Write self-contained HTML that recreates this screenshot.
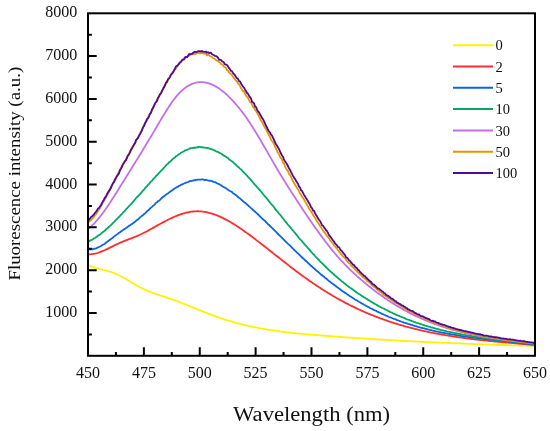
<!DOCTYPE html>
<html><head><meta charset="utf-8"><style>
html,body{margin:0;padding:0;background:#fff;}
svg{display:block;}
text{font-family:"Liberation Serif",serif;fill:#111;}
</style></head><body>
<svg width="550" height="431" viewBox="0 0 550 431">
<rect width="550" height="431" fill="#fff"/>
<g fill="none" stroke-width="1.8" stroke-linejoin="round" stroke-linecap="butt">
<polyline points="88.0,265.08 89.0,265.53 90.0,265.95 91.0,266.35 92.0,266.72 93.0,267.07 94.0,267.40 95.0,267.71 96.0,268.01 97.0,268.29 98.0,268.56 99.0,268.82 100.0,269.07 101.0,269.32 102.0,269.56 103.0,269.80 104.0,270.05 105.0,270.29 106.0,270.55 107.0,270.81 108.0,271.08 109.0,271.36 110.0,271.66 111.0,271.97 112.0,272.30 113.0,272.65 114.0,273.03 115.0,273.43 116.0,273.85 117.0,274.30 118.0,274.77 119.0,275.26 120.0,275.76 121.0,276.28 122.0,276.82 123.0,277.37 124.0,277.93 125.0,278.50 126.0,279.08 127.0,279.67 128.0,280.26 129.0,280.86 130.0,281.46 131.0,282.06 132.0,282.66 133.0,283.26 134.0,283.85 135.0,284.44 136.0,285.02 137.0,285.59 138.0,286.16 139.0,286.71 140.0,287.25 141.0,287.77 142.0,288.28 143.0,288.77 144.0,289.25 145.0,289.71 146.0,290.16 147.0,290.59 148.0,291.02 149.0,291.43 150.0,291.83 151.0,292.22 152.0,292.60 153.0,292.97 154.0,293.33 155.0,293.69 156.0,294.04 157.0,294.39 158.0,294.73 159.0,295.06 160.0,295.40 161.0,295.73 162.0,296.06 163.0,296.38 164.0,296.71 165.0,297.04 166.0,297.37 167.0,297.70 168.0,298.04 169.0,298.37 170.0,298.72 171.0,299.06 172.0,299.42 173.0,299.77 174.0,300.13 175.0,300.50 176.0,300.87 177.0,301.24 178.0,301.62 179.0,302.00 180.0,302.38 181.0,302.76 182.0,303.15 183.0,303.54 184.0,303.94 185.0,304.33 186.0,304.73 187.0,305.13 188.0,305.53 189.0,305.93 190.0,306.33 191.0,306.74 192.0,307.14 193.0,307.55 194.0,307.95 195.0,308.36 196.0,308.76 197.0,309.17 198.0,309.57 199.0,309.98 200.0,310.38 201.0,310.78 202.0,311.18 203.0,311.58 204.0,311.98 205.0,312.38 206.0,312.77 207.0,313.16 208.0,313.55 209.0,313.94 210.0,314.32 211.0,314.70 212.0,315.08 213.0,315.46 214.0,315.83 215.0,316.19 216.0,316.56 217.0,316.91 218.0,317.27 219.0,317.62 220.0,317.96 221.0,318.30 222.0,318.63 223.0,318.96 224.0,319.29 225.0,319.61 226.0,319.93 227.0,320.24 228.0,320.55 229.0,320.85 230.0,321.15 231.0,321.44 232.0,321.73 233.0,322.02 234.0,322.30 235.0,322.58 236.0,322.85 237.0,323.12 238.0,323.38 239.0,323.64 240.0,323.90 241.0,324.15 242.0,324.40 243.0,324.65 244.0,324.89 245.0,325.13 246.0,325.36 247.0,325.59 248.0,325.82 249.0,326.04 250.0,326.26 251.0,326.48 252.0,326.69 253.0,326.90 254.0,327.10 255.0,327.31 256.0,327.51 257.0,327.70 258.0,327.89 259.0,328.08 260.0,328.27 261.0,328.45 262.0,328.63 263.0,328.81 264.0,328.99 265.0,329.16 266.0,329.33 267.0,329.49 268.0,329.66 269.0,329.82 270.0,329.98 271.0,330.13 272.0,330.28 273.0,330.43 274.0,330.58 275.0,330.73 276.0,330.87 277.0,331.01 278.0,331.15 279.0,331.28 280.0,331.42 281.0,331.55 282.0,331.68 283.0,331.81 284.0,331.93 285.0,332.05 286.0,332.17 287.0,332.29 288.0,332.41 289.0,332.53 290.0,332.64 291.0,332.75 292.0,332.86 293.0,332.97 294.0,333.08 295.0,333.18 296.0,333.29 297.0,333.39 298.0,333.49 299.0,333.59 300.0,333.69 301.0,333.78 302.0,333.88 303.0,333.97 304.0,334.06 305.0,334.16 306.0,334.25 307.0,334.34 308.0,334.42 309.0,334.51 310.0,334.60 311.0,334.68 312.0,334.77 313.0,334.85 314.0,334.94 315.0,335.02 316.0,335.10 317.0,335.18 318.0,335.26 319.0,335.34 320.0,335.42 321.0,335.50 322.0,335.58 323.0,335.66 324.0,335.73 325.0,335.81 326.0,335.89 327.0,335.97 328.0,336.04 329.0,336.12 330.0,336.19 331.0,336.27 332.0,336.34 333.0,336.42 334.0,336.49 335.0,336.57 336.0,336.64 337.0,336.71 338.0,336.79 339.0,336.86 340.0,336.93 341.0,337.00 342.0,337.07 343.0,337.14 344.0,337.22 345.0,337.29 346.0,337.36 347.0,337.43 348.0,337.50 349.0,337.56 350.0,337.63 351.0,337.70 352.0,337.77 353.0,337.84 354.0,337.91 355.0,337.97 356.0,338.04 357.0,338.11 358.0,338.17 359.0,338.24 360.0,338.30 361.0,338.37 362.0,338.44 363.0,338.50 364.0,338.56 365.0,338.63 366.0,338.69 367.0,338.76 368.0,338.82 369.0,338.88 370.0,338.94 371.0,339.01 372.0,339.07 373.0,339.13 374.0,339.19 375.0,339.25 376.0,339.31 377.0,339.37 378.0,339.43 379.0,339.49 380.0,339.55 381.0,339.61 382.0,339.67 383.0,339.73 384.0,339.79 385.0,339.85 386.0,339.91 387.0,339.96 388.0,340.02 389.0,340.08 390.0,340.13 391.0,340.19 392.0,340.25 393.0,340.30 394.0,340.36 395.0,340.41 396.0,340.47 397.0,340.52 398.0,340.58 399.0,340.63 400.0,340.69 401.0,340.74 402.0,340.79 403.0,340.85 404.0,340.90 405.0,340.95 406.0,341.00 407.0,341.06 408.0,341.11 409.0,341.16 410.0,341.21 411.0,341.26 412.0,341.31 413.0,341.36 414.0,341.41 415.0,341.46 416.0,341.51 417.0,341.56 418.0,341.61 419.0,341.66 420.0,341.71 421.0,341.76 422.0,341.81 423.0,341.86 424.0,341.90 425.0,341.95 426.0,342.00 427.0,342.05 428.0,342.09 429.0,342.14 430.0,342.19 431.0,342.23 432.0,342.28 433.0,342.32 434.0,342.37 435.0,342.41 436.0,342.46 437.0,342.50 438.0,342.55 439.0,342.59 440.0,342.64 441.0,342.68 442.0,342.72 443.0,342.77 444.0,342.81 445.0,342.85 446.0,342.90 447.0,342.94 448.0,342.98 449.0,343.02 450.0,343.07 451.0,343.11 452.0,343.15 453.0,343.19 454.0,343.23 455.0,343.27 456.0,343.31 457.0,343.35 458.0,343.39 459.0,343.43 460.0,343.47 461.0,343.51 462.0,343.55 463.0,343.59 464.0,343.63 465.0,343.67 466.0,343.71 467.0,343.75 468.0,343.78 469.0,343.82 470.0,343.86 471.0,343.90 472.0,343.94 473.0,343.97 474.0,344.01 475.0,344.05 476.0,344.08 477.0,344.12 478.0,344.16 479.0,344.19 480.0,344.23 481.0,344.26 482.0,344.30 483.0,344.34 484.0,344.37 485.0,344.41 486.0,344.44 487.0,344.48 488.0,344.51 489.0,344.54 490.0,344.58 491.0,344.61 492.0,344.65 493.0,344.68 494.0,344.71 495.0,344.75 496.0,344.78 497.0,344.81 498.0,344.85 499.0,344.88 500.0,344.91 501.0,344.94 502.0,344.98 503.0,345.01 504.0,345.04 505.0,345.07 506.0,345.10 507.0,345.14 508.0,345.17 509.0,345.20 510.0,345.23 511.0,345.26 512.0,345.29 513.0,345.32 514.0,345.35 515.0,345.38 516.0,345.41 517.0,345.44 518.0,345.47 519.0,345.50 520.0,345.53 521.0,345.56 522.0,345.59 523.0,345.62 524.0,345.65 525.0,345.68 526.0,345.71 527.0,345.74 528.0,345.77 529.0,345.80 530.0,345.82 531.0,345.85 532.0,345.88 533.0,345.91 534.0,345.94 535.0,345.96" stroke="#FFF200"/>
<polyline points="88.0,254.30 89.0,254.31 90.0,254.28 91.0,254.21 92.0,254.10 93.0,253.95 94.0,253.77 95.0,253.56 96.0,253.31 97.0,253.04 98.0,252.74 99.0,252.41 100.0,252.06 101.0,251.69 102.0,251.30 103.0,250.89 104.0,250.46 105.0,250.02 106.0,249.56 107.0,249.09 108.0,248.61 109.0,248.13 110.0,247.64 111.0,247.14 112.0,246.65 113.0,246.15 114.0,245.65 115.0,245.15 116.0,244.66 117.0,244.18 118.0,243.70 119.0,243.24 120.0,242.78 121.0,242.34 122.0,241.92 123.0,241.50 124.0,241.10 125.0,240.70 126.0,240.31 127.0,239.93 128.0,239.55 129.0,239.17 130.0,238.80 131.0,238.42 132.0,238.04 133.0,237.66 134.0,237.27 135.0,236.88 136.0,236.47 137.0,236.06 138.0,235.64 139.0,235.20 140.0,234.74 141.0,234.28 142.0,233.79 143.0,233.30 144.0,232.79 145.0,232.27 146.0,231.75 147.0,231.21 148.0,230.67 149.0,230.12 150.0,229.57 151.0,229.02 152.0,228.46 153.0,227.90 154.0,227.34 155.0,226.78 156.0,226.22 157.0,225.66 158.0,225.11 159.0,224.55 160.0,224.00 161.0,223.46 162.0,222.91 163.0,222.38 164.0,221.85 165.0,221.32 166.0,220.80 167.0,220.29 168.0,219.79 169.0,219.29 170.0,218.80 171.0,218.33 172.0,217.86 173.0,217.41 174.0,216.96 175.0,216.53 176.0,216.11 177.0,215.70 178.0,215.31 179.0,214.93 180.0,214.57 181.0,214.22 182.0,213.89 183.0,213.58 184.0,213.28 185.0,213.00 186.0,212.74 187.0,212.50 188.0,212.28 189.0,212.07 190.0,211.89 191.0,211.73 192.0,211.60 193.0,211.48 194.0,211.39 195.0,211.33 196.0,211.28 197.0,211.26 198.0,211.27 199.0,211.30 200.0,211.35 201.0,211.43 202.0,211.52 203.0,211.64 204.0,211.78 205.0,211.95 206.0,212.13 207.0,212.33 208.0,212.56 209.0,212.80 210.0,213.06 211.0,213.35 212.0,213.65 213.0,213.97 214.0,214.30 215.0,214.66 216.0,215.03 217.0,215.42 218.0,215.82 219.0,216.25 220.0,216.68 221.0,217.14 222.0,217.60 223.0,218.09 224.0,218.58 225.0,219.09 226.0,219.62 227.0,220.16 228.0,220.71 229.0,221.27 230.0,221.84 231.0,222.43 232.0,223.03 233.0,223.64 234.0,224.26 235.0,224.89 236.0,225.53 237.0,226.18 238.0,226.83 239.0,227.50 240.0,228.18 241.0,228.86 242.0,229.55 243.0,230.25 244.0,230.96 245.0,231.67 246.0,232.39 247.0,233.11 248.0,233.84 249.0,234.58 250.0,235.32 251.0,236.06 252.0,236.81 253.0,237.56 254.0,238.32 255.0,239.07 256.0,239.84 257.0,240.60 258.0,241.37 259.0,242.14 260.0,242.91 261.0,243.68 262.0,244.46 263.0,245.24 264.0,246.02 265.0,246.80 266.0,247.58 267.0,248.37 268.0,249.16 269.0,249.94 270.0,250.73 271.0,251.52 272.0,252.31 273.0,253.10 274.0,253.89 275.0,254.68 276.0,255.47 277.0,256.26 278.0,257.04 279.0,257.83 280.0,258.62 281.0,259.41 282.0,260.19 283.0,260.98 284.0,261.76 285.0,262.54 286.0,263.32 287.0,264.10 288.0,264.88 289.0,265.65 290.0,266.42 291.0,267.19 292.0,267.96 293.0,268.72 294.0,269.48 295.0,270.24 296.0,270.99 297.0,271.74 298.0,272.49 299.0,273.23 300.0,273.97 301.0,274.71 302.0,275.44 303.0,276.17 304.0,276.89 305.0,277.61 306.0,278.32 307.0,279.03 308.0,279.74 309.0,280.44 310.0,281.14 311.0,281.83 312.0,282.52 313.0,283.20 314.0,283.88 315.0,284.56 316.0,285.23 317.0,285.90 318.0,286.56 319.0,287.21 320.0,287.87 321.0,288.51 322.0,289.16 323.0,289.80 324.0,290.43 325.0,291.06 326.0,291.68 327.0,292.30 328.0,292.92 329.0,293.53 330.0,294.13 331.0,294.73 332.0,295.33 333.0,295.92 334.0,296.51 335.0,297.09 336.0,297.66 337.0,298.23 338.0,298.80 339.0,299.36 340.0,299.91 341.0,300.46 342.0,301.01 343.0,301.55 344.0,302.08 345.0,302.61 346.0,303.14 347.0,303.66 348.0,304.17 349.0,304.68 350.0,305.19 351.0,305.69 352.0,306.18 353.0,306.67 354.0,307.16 355.0,307.64 356.0,308.12 357.0,308.59 358.0,309.06 359.0,309.52 360.0,309.98 361.0,310.43 362.0,310.88 363.0,311.32 364.0,311.76 365.0,312.20 366.0,312.63 367.0,313.06 368.0,313.48 369.0,313.90 370.0,314.31 371.0,314.72 372.0,315.13 373.0,315.53 374.0,315.92 375.0,316.32 376.0,316.71 377.0,317.09 378.0,317.47 379.0,317.85 380.0,318.22 381.0,318.59 382.0,318.95 383.0,319.31 384.0,319.67 385.0,320.02 386.0,320.37 387.0,320.71 388.0,321.06 389.0,321.39 390.0,321.73 391.0,322.06 392.0,322.38 393.0,322.70 394.0,323.02 395.0,323.34 396.0,323.65 397.0,323.96 398.0,324.26 399.0,324.56 400.0,324.86 401.0,325.16 402.0,325.45 403.0,325.73 404.0,326.02 405.0,326.30 406.0,326.58 407.0,326.85 408.0,327.12 409.0,327.39 410.0,327.65 411.0,327.92 412.0,328.17 413.0,328.43 414.0,328.68 415.0,328.93 416.0,329.18 417.0,329.42 418.0,329.66 419.0,329.90 420.0,330.13 421.0,330.36 422.0,330.59 423.0,330.82 424.0,331.04 425.0,331.26 426.0,331.48 427.0,331.69 428.0,331.90 429.0,332.11 430.0,332.32 431.0,332.53 432.0,332.73 433.0,332.93 434.0,333.12 435.0,333.32 436.0,333.51 437.0,333.70 438.0,333.88 439.0,334.07 440.0,334.25 441.0,334.43 442.0,334.61 443.0,334.78 444.0,334.96 445.0,335.13 446.0,335.30 447.0,335.46 448.0,335.63 449.0,335.79 450.0,335.95 451.0,336.11 452.0,336.27 453.0,336.42 454.0,336.57 455.0,336.72 456.0,336.87 457.0,337.02 458.0,337.16 459.0,337.31 460.0,337.45 461.0,337.59 462.0,337.72 463.0,337.86 464.0,337.99 465.0,338.13 466.0,338.26 467.0,338.39 468.0,338.52 469.0,338.64 470.0,338.77 471.0,338.89 472.0,339.01 473.0,339.13 474.0,339.25 475.0,339.37 476.0,339.49 477.0,339.60 478.0,339.72 479.0,339.83 480.0,339.94 481.0,340.05 482.0,340.16 483.0,340.27 484.0,340.38 485.0,340.48 486.0,340.59 487.0,340.69 488.0,340.79 489.0,340.90 490.0,341.00 491.0,341.10 492.0,341.20 493.0,341.29 494.0,341.39 495.0,341.49 496.0,341.58 497.0,341.68 498.0,341.77 499.0,341.87 500.0,341.96 501.0,342.05 502.0,342.15 503.0,342.24 504.0,342.33 505.0,342.42 506.0,342.51 507.0,342.60 508.0,342.69 509.0,342.77 510.0,342.86 511.0,342.95 512.0,343.04 513.0,343.12 514.0,343.21 515.0,343.30 516.0,343.38 517.0,343.47 518.0,343.56 519.0,343.64 520.0,343.73 521.0,343.81 522.0,343.90 523.0,343.99 524.0,344.07 525.0,344.16 526.0,344.24 527.0,344.33 528.0,344.42 529.0,344.50 530.0,344.59 531.0,344.67 532.0,344.76 533.0,344.85 534.0,344.94 535.0,345.02" stroke="#FF2D2D"/>
<polyline points="88.0,249.10 89.0,249.16 90.0,249.53 91.0,249.23 92.0,249.20 93.0,249.23 94.0,248.75 95.0,248.52 96.0,248.30 97.0,247.87 98.0,247.36 99.0,247.00 100.0,246.48 101.0,246.04 102.0,245.20 103.0,244.69 104.0,244.26 105.0,243.66 106.0,242.58 107.0,242.11 108.0,241.18 109.0,240.44 110.0,239.67 111.0,238.95 112.0,238.34 113.0,237.53 114.0,236.68 115.0,235.85 116.0,235.13 117.0,234.36 118.0,233.72 119.0,232.82 120.0,232.17 121.0,231.44 122.0,230.74 123.0,230.08 124.0,229.38 125.0,228.83 126.0,227.97 127.0,227.50 128.0,226.59 129.0,225.89 130.0,225.28 131.0,224.62 132.0,223.90 133.0,223.31 134.0,222.55 135.0,221.71 136.0,220.83 137.0,220.06 138.0,219.43 139.0,218.45 140.0,217.41 141.0,216.64 142.0,215.78 143.0,215.13 144.0,214.08 145.0,213.49 146.0,212.38 147.0,211.40 148.0,210.41 149.0,209.68 150.0,208.61 151.0,207.61 152.0,206.88 153.0,205.89 154.0,205.13 155.0,204.06 156.0,202.78 157.0,202.38 158.0,201.13 159.0,200.71 160.0,199.88 161.0,198.72 162.0,197.78 163.0,196.92 164.0,196.41 165.0,195.46 166.0,194.62 167.0,193.90 168.0,193.46 169.0,192.48 170.0,191.82 171.0,191.11 172.0,190.45 173.0,189.79 174.0,188.89 175.0,188.32 176.0,187.62 177.0,187.03 178.0,186.71 179.0,185.92 180.0,185.44 181.0,184.84 182.0,184.35 183.0,184.07 184.0,183.45 185.0,183.01 186.0,182.74 187.0,182.36 188.0,182.04 189.0,181.61 190.0,181.02 191.0,181.08 192.0,180.80 193.0,180.64 194.0,180.16 195.0,180.46 196.0,179.76 197.0,179.92 198.0,179.72 199.0,179.57 200.0,179.71 201.0,179.54 202.0,179.26 203.0,179.47 204.0,179.78 205.0,180.14 206.0,179.74 207.0,180.12 208.0,180.52 209.0,180.63 210.0,180.74 211.0,180.87 212.0,181.13 213.0,181.61 214.0,182.03 215.0,182.15 216.0,182.64 217.0,183.36 218.0,183.72 219.0,184.15 220.0,184.70 221.0,185.17 222.0,185.96 223.0,186.63 224.0,187.28 225.0,187.69 226.0,188.32 227.0,189.06 228.0,189.76 229.0,190.40 230.0,191.05 231.0,191.50 232.0,192.09 233.0,193.17 234.0,193.79 235.0,194.55 236.0,195.21 237.0,195.94 238.0,197.11 239.0,197.79 240.0,198.40 241.0,199.42 242.0,200.25 243.0,201.12 244.0,202.20 245.0,202.75 246.0,203.45 247.0,204.50 248.0,205.28 249.0,206.33 250.0,207.17 251.0,208.09 252.0,208.87 253.0,209.91 254.0,210.70 255.0,211.76 256.0,212.58 257.0,213.40 258.0,214.54 259.0,215.33 260.0,216.55 261.0,217.37 262.0,218.32 263.0,219.23 264.0,220.17 265.0,220.84 266.0,222.26 267.0,222.98 268.0,224.17 269.0,224.95 270.0,225.98 271.0,226.95 272.0,227.84 273.0,228.93 274.0,229.99 275.0,230.87 276.0,231.75 277.0,232.82 278.0,233.91 279.0,235.01 280.0,235.96 281.0,236.89 282.0,237.73 283.0,238.94 284.0,239.83 285.0,240.78 286.0,241.91 287.0,242.86 288.0,243.83 289.0,244.63 290.0,245.67 291.0,246.53 292.0,247.73 293.0,248.69 294.0,249.76 295.0,250.65 296.0,251.56 297.0,252.80 298.0,253.42 299.0,254.35 300.0,255.38 301.0,256.46 302.0,257.31 303.0,258.25 304.0,259.12 305.0,260.33 306.0,261.04 307.0,261.92 308.0,262.94 309.0,263.79 310.0,264.76 311.0,265.82 312.0,266.54 313.0,267.47 314.0,268.33 315.0,269.23 316.0,270.20 317.0,271.04 318.0,271.82 319.0,272.62 320.0,273.55 321.0,274.48 322.0,275.24 323.0,276.06 324.0,276.73 325.0,277.81 326.0,278.39 327.0,279.22 328.0,280.10 329.0,280.94 330.0,281.73 331.0,282.43 332.0,283.25 333.0,283.99 334.0,284.64 335.0,285.54 336.0,286.25 337.0,287.10 338.0,287.78 339.0,288.61 340.0,289.31 341.0,290.05 342.0,290.79 343.0,291.44 344.0,292.07 345.0,292.89 346.0,293.38 347.0,294.14 348.0,294.88 349.0,295.45 350.0,296.19 351.0,296.72 352.0,297.39 353.0,298.12 354.0,298.76 355.0,299.43 356.0,299.94 357.0,300.58 358.0,301.22 359.0,301.80 360.0,302.25 361.0,302.90 362.0,303.63 363.0,304.00 364.0,304.71 365.0,305.19 366.0,305.85 367.0,306.26 368.0,306.86 369.0,307.24 370.0,307.92 371.0,308.52 372.0,308.85 373.0,309.55 374.0,309.92 375.0,310.46 376.0,310.76 377.0,311.52 378.0,311.86 379.0,312.36 380.0,312.77 381.0,313.26 382.0,313.86 383.0,314.20 384.0,314.74 385.0,315.11 386.0,315.58 387.0,315.95 388.0,316.44 389.0,317.00 390.0,317.28 391.0,317.68 392.0,318.02 393.0,318.51 394.0,318.93 395.0,319.11 396.0,319.52 397.0,320.12 398.0,320.38 399.0,320.73 400.0,321.12 401.0,321.51 402.0,321.85 403.0,322.13 404.0,322.62 405.0,322.83 406.0,323.11 407.0,323.46 408.0,323.81 409.0,324.12 410.0,324.44 411.0,324.79 412.0,324.88 413.0,325.33 414.0,325.73 415.0,326.01 416.0,326.22 417.0,326.52 418.0,326.90 419.0,327.10 420.0,327.36 421.0,327.77 422.0,327.91 423.0,328.23 424.0,328.45 425.0,328.71 426.0,328.91 427.0,329.16 428.0,329.52 429.0,329.63 430.0,329.95 431.0,330.10 432.0,330.39 433.0,330.63 434.0,330.77 435.0,331.14 436.0,331.28 437.0,331.57 438.0,331.67 439.0,331.98 440.0,332.26 441.0,332.35 442.0,332.51 443.0,332.76 444.0,332.94 445.0,333.11 446.0,333.31 447.0,333.47 448.0,333.70 449.0,333.84 450.0,334.00 451.0,334.26 452.0,334.38 453.0,334.69 454.0,334.72 455.0,334.86 456.0,335.04 457.0,335.24 458.0,335.35 459.0,335.48 460.0,335.78 461.0,335.79 462.0,336.07 463.0,336.16 464.0,336.25 465.0,336.52 466.0,336.58 467.0,336.68 468.0,336.87 469.0,337.07 470.0,337.18 471.0,337.32 472.0,337.50 473.0,337.56 474.0,337.70 475.0,337.80 476.0,337.87 477.0,338.06 478.0,338.26 479.0,338.23 480.0,338.50 481.0,338.57 482.0,338.64 483.0,338.80 484.0,339.00 485.0,339.01 486.0,339.19 487.0,339.32 488.0,339.34 489.0,339.53 490.0,339.64 491.0,339.71 492.0,339.87 493.0,339.93 494.0,340.04 495.0,340.12 496.0,340.30 497.0,340.37 498.0,340.48 499.0,340.56 500.0,340.66 501.0,340.80 502.0,340.97 503.0,341.01 504.0,341.22 505.0,341.28 506.0,341.38 507.0,341.43 508.0,341.67 509.0,341.64 510.0,341.83 511.0,341.98 512.0,342.02 513.0,342.11 514.0,342.25 515.0,342.39 516.0,342.52 517.0,342.60 518.0,342.65 519.0,342.78 520.0,342.93 521.0,342.98 522.0,343.14 523.0,343.35 524.0,343.34 525.0,343.54 526.0,343.58 527.0,343.72 528.0,343.85 529.0,343.92 530.0,344.09 531.0,344.27 532.0,344.37 533.0,344.50 534.0,344.57 535.0,344.72" stroke="#0A64E6"/>
<polyline points="88.0,242.03 89.0,241.33 90.0,240.81 91.0,240.03 92.0,239.79 93.0,239.17 94.0,238.53 95.0,238.00 96.0,237.35 97.0,236.49 98.0,235.80 99.0,235.12 100.0,234.50 101.0,233.71 102.0,232.69 103.0,231.90 104.0,231.29 105.0,230.53 106.0,229.47 107.0,228.50 108.0,227.81 109.0,226.72 110.0,225.91 111.0,225.07 112.0,223.99 113.0,222.95 114.0,222.05 115.0,220.88 116.0,219.94 117.0,218.87 118.0,217.90 119.0,216.83 120.0,215.83 121.0,214.76 122.0,213.77 123.0,212.71 124.0,211.67 125.0,210.74 126.0,209.28 127.0,208.57 128.0,207.28 129.0,206.05 130.0,205.10 131.0,204.03 132.0,203.05 133.0,201.66 134.0,200.72 135.0,199.59 136.0,198.23 137.0,197.18 138.0,196.30 139.0,195.19 140.0,194.13 141.0,192.93 142.0,191.78 143.0,190.62 144.0,189.65 145.0,188.24 146.0,187.22 147.0,186.17 148.0,184.78 149.0,184.07 150.0,182.66 151.0,181.65 152.0,180.86 153.0,179.33 154.0,178.28 155.0,177.48 156.0,176.01 157.0,175.02 158.0,174.07 159.0,172.99 160.0,171.94 161.0,170.84 162.0,169.93 163.0,168.83 164.0,167.73 165.0,166.51 166.0,165.49 167.0,164.31 168.0,163.71 169.0,162.37 170.0,161.82 171.0,161.04 172.0,159.69 173.0,158.86 174.0,158.03 175.0,157.39 176.0,156.32 177.0,155.65 178.0,154.84 179.0,154.16 180.0,153.72 181.0,152.72 182.0,152.26 183.0,151.71 184.0,151.26 185.0,150.43 186.0,150.33 187.0,149.79 188.0,149.45 189.0,148.96 190.0,148.37 191.0,148.23 192.0,148.19 193.0,147.84 194.0,147.63 195.0,147.76 196.0,147.69 197.0,147.24 198.0,147.48 199.0,146.84 200.0,146.82 201.0,147.30 202.0,147.19 203.0,147.40 204.0,147.51 205.0,147.56 206.0,147.86 207.0,147.98 208.0,147.95 209.0,148.49 210.0,148.77 211.0,149.34 212.0,149.23 213.0,149.77 214.0,150.10 215.0,150.57 216.0,151.30 217.0,151.57 218.0,151.94 219.0,152.56 220.0,153.20 221.0,153.51 222.0,154.22 223.0,155.11 224.0,155.65 225.0,156.18 226.0,156.80 227.0,157.56 228.0,158.08 229.0,159.21 230.0,159.89 231.0,160.66 232.0,161.25 233.0,162.18 234.0,163.21 235.0,164.04 236.0,164.82 237.0,165.88 238.0,166.86 239.0,167.56 240.0,168.54 241.0,169.46 242.0,170.41 243.0,171.70 244.0,172.67 245.0,173.67 246.0,174.50 247.0,175.57 248.0,176.78 249.0,177.81 250.0,178.98 251.0,179.97 252.0,181.27 253.0,182.56 254.0,183.66 255.0,184.81 256.0,185.74 257.0,187.02 258.0,188.00 259.0,189.36 260.0,190.36 261.0,191.53 262.0,192.70 263.0,194.08 264.0,195.23 265.0,196.42 266.0,197.45 267.0,198.84 268.0,199.84 269.0,201.46 270.0,202.46 271.0,203.73 272.0,204.91 273.0,205.95 274.0,207.20 275.0,208.61 276.0,210.04 277.0,210.93 278.0,212.22 279.0,213.53 280.0,214.55 281.0,215.78 282.0,217.18 283.0,218.46 284.0,219.64 285.0,221.11 286.0,222.12 287.0,223.41 288.0,224.79 289.0,226.02 290.0,226.83 291.0,228.20 292.0,229.60 293.0,230.50 294.0,231.76 295.0,232.92 296.0,234.11 297.0,235.33 298.0,236.67 299.0,237.98 300.0,239.19 301.0,240.19 302.0,241.13 303.0,242.52 304.0,243.64 305.0,244.87 306.0,245.96 307.0,246.91 308.0,248.29 309.0,249.14 310.0,250.41 311.0,251.63 312.0,252.74 313.0,253.97 314.0,254.63 315.0,256.00 316.0,257.10 317.0,258.05 318.0,259.21 319.0,260.06 320.0,261.28 321.0,262.29 322.0,263.14 323.0,264.18 324.0,265.22 325.0,266.15 326.0,267.29 327.0,268.16 328.0,269.23 329.0,270.15 330.0,270.97 331.0,271.86 332.0,272.70 333.0,273.61 334.0,274.50 335.0,275.49 336.0,276.24 337.0,277.20 338.0,278.06 339.0,278.84 340.0,279.70 341.0,280.68 342.0,281.51 343.0,282.09 344.0,282.94 345.0,283.72 346.0,284.51 347.0,285.44 348.0,286.13 349.0,286.94 350.0,287.73 351.0,288.28 352.0,289.03 353.0,289.78 354.0,290.58 355.0,291.19 356.0,291.96 357.0,292.70 358.0,293.38 359.0,294.00 360.0,294.57 361.0,295.18 362.0,296.06 363.0,296.66 364.0,297.19 365.0,297.86 366.0,298.50 367.0,299.03 368.0,299.80 369.0,300.33 370.0,300.98 371.0,301.66 372.0,302.19 373.0,302.82 374.0,303.39 375.0,303.94 376.0,304.50 377.0,305.21 378.0,305.60 379.0,306.29 380.0,306.64 381.0,307.30 382.0,307.79 383.0,308.25 384.0,308.62 385.0,309.45 386.0,309.75 387.0,310.27 388.0,310.84 389.0,311.33 390.0,311.83 391.0,312.27 392.0,312.65 393.0,313.29 394.0,313.62 395.0,314.16 396.0,314.63 397.0,315.12 398.0,315.46 399.0,315.89 400.0,316.32 401.0,316.64 402.0,317.13 403.0,317.53 404.0,317.93 405.0,318.42 406.0,318.79 407.0,319.30 408.0,319.69 409.0,319.85 410.0,320.36 411.0,320.66 412.0,321.13 413.0,321.47 414.0,321.88 415.0,322.19 416.0,322.57 417.0,322.85 418.0,323.06 419.0,323.48 420.0,323.83 421.0,324.18 422.0,324.47 423.0,324.95 424.0,325.16 425.0,325.56 426.0,325.77 427.0,326.19 428.0,326.32 429.0,326.72 430.0,326.90 431.0,327.29 432.0,327.64 433.0,327.74 434.0,328.05 435.0,328.39 436.0,328.63 437.0,328.83 438.0,329.23 439.0,329.43 440.0,329.75 441.0,329.95 442.0,330.12 443.0,330.40 444.0,330.74 445.0,330.83 446.0,331.11 447.0,331.40 448.0,331.64 449.0,331.86 450.0,331.96 451.0,332.36 452.0,332.46 453.0,332.68 454.0,332.89 455.0,333.08 456.0,333.25 457.0,333.48 458.0,333.76 459.0,333.82 460.0,333.96 461.0,334.30 462.0,334.48 463.0,334.68 464.0,334.91 465.0,334.97 466.0,335.19 467.0,335.38 468.0,335.59 469.0,335.75 470.0,335.83 471.0,335.97 472.0,336.19 473.0,336.29 474.0,336.57 475.0,336.66 476.0,336.82 477.0,336.95 478.0,337.21 479.0,337.30 480.0,337.42 481.0,337.61 482.0,337.73 483.0,337.90 484.0,338.07 485.0,338.14 486.0,338.31 487.0,338.45 488.0,338.61 489.0,338.72 490.0,338.83 491.0,338.93 492.0,339.10 493.0,339.17 494.0,339.38 495.0,339.48 496.0,339.62 497.0,339.70 498.0,339.81 499.0,339.93 500.0,340.14 501.0,340.20 502.0,340.32 503.0,340.37 504.0,340.56 505.0,340.54 506.0,340.86 507.0,340.91 508.0,341.03 509.0,341.09 510.0,341.22 511.0,341.40 512.0,341.48 513.0,341.62 514.0,341.77 515.0,341.85 516.0,341.86 517.0,342.01 518.0,342.12 519.0,342.24 520.0,342.30 521.0,342.42 522.0,342.58 523.0,342.70 524.0,342.85 525.0,342.93 526.0,343.11 527.0,343.10 528.0,343.23 529.0,343.41 530.0,343.50 531.0,343.59 532.0,343.77 533.0,343.89 534.0,344.02 535.0,344.07" stroke="#00A862"/>
<polyline points="88.0,228.81 89.0,228.07 90.0,227.27 91.0,226.42 92.0,225.51 93.0,224.56 94.0,223.57 95.0,222.52 96.0,221.44 97.0,220.31 98.0,219.14 99.0,217.93 100.0,216.69 101.0,215.41 102.0,214.10 103.0,212.76 104.0,211.39 105.0,209.99 106.0,208.56 107.0,207.11 108.0,205.64 109.0,204.14 110.0,202.63 111.0,201.10 112.0,199.55 113.0,197.99 114.0,196.42 115.0,194.84 116.0,193.25 117.0,191.65 118.0,190.04 119.0,188.44 120.0,186.83 121.0,185.22 122.0,183.61 123.0,182.00 124.0,180.40 125.0,178.79 126.0,177.19 127.0,175.58 128.0,173.98 129.0,172.37 130.0,170.77 131.0,169.16 132.0,167.56 133.0,165.95 134.0,164.34 135.0,162.73 136.0,161.11 137.0,159.50 138.0,157.88 139.0,156.25 140.0,154.63 141.0,153.00 142.0,151.37 143.0,149.73 144.0,148.09 145.0,146.45 146.0,144.80 147.0,143.14 148.0,141.48 149.0,139.82 150.0,138.14 151.0,136.47 152.0,134.78 153.0,133.09 154.0,131.40 155.0,129.69 156.0,127.98 157.0,126.27 158.0,124.57 159.0,122.86 160.0,121.16 161.0,119.47 162.0,117.79 163.0,116.13 164.0,114.48 165.0,112.85 166.0,111.24 167.0,109.65 168.0,108.09 169.0,106.56 170.0,105.07 171.0,103.60 172.0,102.18 173.0,100.79 174.0,99.45 175.0,98.14 176.0,96.89 177.0,95.69 178.0,94.54 179.0,93.44 180.0,92.40 181.0,91.41 182.0,90.48 183.0,89.59 184.0,88.76 185.0,87.99 186.0,87.26 187.0,86.59 188.0,85.96 189.0,85.39 190.0,84.86 191.0,84.38 192.0,83.95 193.0,83.57 194.0,83.24 195.0,82.95 196.0,82.70 197.0,82.51 198.0,82.35 199.0,82.25 200.0,82.18 201.0,82.16 202.0,82.18 203.0,82.24 204.0,82.35 205.0,82.49 206.0,82.68 207.0,82.90 208.0,83.17 209.0,83.47 210.0,83.81 211.0,84.19 212.0,84.61 213.0,85.06 214.0,85.55 215.0,86.08 216.0,86.64 217.0,87.23 218.0,87.86 219.0,88.52 220.0,89.21 221.0,89.94 222.0,90.70 223.0,91.48 224.0,92.30 225.0,93.15 226.0,94.03 227.0,94.94 228.0,95.87 229.0,96.84 230.0,97.83 231.0,98.85 232.0,99.89 233.0,100.96 234.0,102.06 235.0,103.18 236.0,104.33 237.0,105.51 238.0,106.71 239.0,107.94 240.0,109.19 241.0,110.47 242.0,111.77 243.0,113.10 244.0,114.45 245.0,115.83 246.0,117.24 247.0,118.67 248.0,120.12 249.0,121.60 250.0,123.11 251.0,124.63 252.0,126.19 253.0,127.76 254.0,129.36 255.0,130.97 256.0,132.61 257.0,134.26 258.0,135.93 259.0,137.61 260.0,139.31 261.0,141.01 262.0,142.73 263.0,144.45 264.0,146.19 265.0,147.93 266.0,149.67 267.0,151.41 268.0,153.16 269.0,154.91 270.0,156.66 271.0,158.40 272.0,160.14 273.0,161.88 274.0,163.60 275.0,165.32 276.0,167.03 277.0,168.73 278.0,170.42 279.0,172.09 280.0,173.76 281.0,175.41 282.0,177.04 283.0,178.67 284.0,180.29 285.0,181.90 286.0,183.50 287.0,185.09 288.0,186.68 289.0,188.25 290.0,189.82 291.0,191.39 292.0,192.95 293.0,194.50 294.0,196.05 295.0,197.59 296.0,199.13 297.0,200.67 298.0,202.20 299.0,203.72 300.0,205.24 301.0,206.76 302.0,208.27 303.0,209.77 304.0,211.27 305.0,212.76 306.0,214.24 307.0,215.72 308.0,217.19 309.0,218.66 310.0,220.12 311.0,221.57 312.0,223.01 313.0,224.44 314.0,225.87 315.0,227.29 316.0,228.70 317.0,230.10 318.0,231.49 319.0,232.87 320.0,234.25 321.0,235.61 322.0,236.96 323.0,238.31 324.0,239.64 325.0,240.96 326.0,242.27 327.0,243.56 328.0,244.85 329.0,246.12 330.0,247.38 331.0,248.63 332.0,249.87 333.0,251.09 334.0,252.29 335.0,253.49 336.0,254.66 337.0,255.83 338.0,256.98 339.0,258.11 340.0,259.23 341.0,260.33 342.0,261.41 343.0,262.48 344.0,263.54 345.0,264.58 346.0,265.60 347.0,266.61 348.0,267.61 349.0,268.60 350.0,269.57 351.0,270.53 352.0,271.48 353.0,272.42 354.0,273.34 355.0,274.26 356.0,275.17 357.0,276.07 358.0,276.96 359.0,277.84 360.0,278.71 361.0,279.58 362.0,280.44 363.0,281.29 364.0,282.13 365.0,282.97 366.0,283.80 367.0,284.62 368.0,285.43 369.0,286.24 370.0,287.04 371.0,287.83 372.0,288.62 373.0,289.39 374.0,290.17 375.0,290.93 376.0,291.68 377.0,292.43 378.0,293.17 379.0,293.91 380.0,294.63 381.0,295.35 382.0,296.07 383.0,296.77 384.0,297.47 385.0,298.16 386.0,298.84 387.0,299.52 388.0,300.19 389.0,300.85 390.0,301.50 391.0,302.15 392.0,302.79 393.0,303.43 394.0,304.05 395.0,304.67 396.0,305.28 397.0,305.89 398.0,306.49 399.0,307.08 400.0,307.66 401.0,308.24 402.0,308.81 403.0,309.37 404.0,309.93 405.0,310.48 406.0,311.02 407.0,311.56 408.0,312.09 409.0,312.61 410.0,313.12 411.0,313.63 412.0,314.14 413.0,314.63 414.0,315.12 415.0,315.61 416.0,316.09 417.0,316.56 418.0,317.02 419.0,317.48 420.0,317.94 421.0,318.38 422.0,318.83 423.0,319.26 424.0,319.69 425.0,320.12 426.0,320.53 427.0,320.95 428.0,321.35 429.0,321.76 430.0,322.15 431.0,322.54 432.0,322.93 433.0,323.31 434.0,323.68 435.0,324.05 436.0,324.42 437.0,324.77 438.0,325.13 439.0,325.48 440.0,325.82 441.0,326.16 442.0,326.49 443.0,326.82 444.0,327.15 445.0,327.47 446.0,327.78 447.0,328.09 448.0,328.40 449.0,328.70 450.0,329.00 451.0,329.29 452.0,329.58 453.0,329.86 454.0,330.14 455.0,330.42 456.0,330.69 457.0,330.96 458.0,331.22 459.0,331.48 460.0,331.74 461.0,331.99 462.0,332.24 463.0,332.48 464.0,332.72 465.0,332.96 466.0,333.19 467.0,333.42 468.0,333.65 469.0,333.87 470.0,334.09 471.0,334.30 472.0,334.52 473.0,334.73 474.0,334.93 475.0,335.13 476.0,335.33 477.0,335.53 478.0,335.73 479.0,335.92 480.0,336.10 481.0,336.29 482.0,336.47 483.0,336.65 484.0,336.83 485.0,337.00 486.0,337.18 487.0,337.34 488.0,337.51 489.0,337.68 490.0,337.84 491.0,338.00 492.0,338.16 493.0,338.31 494.0,338.46 495.0,338.62 496.0,338.77 497.0,338.91 498.0,339.06 499.0,339.20 500.0,339.34 501.0,339.48 502.0,339.62 503.0,339.76 504.0,339.89 505.0,340.03 506.0,340.16 507.0,340.29 508.0,340.42 509.0,340.54 510.0,340.67 511.0,340.80 512.0,340.92 513.0,341.04 514.0,341.16 515.0,341.28 516.0,341.40 517.0,341.52 518.0,341.64 519.0,341.76 520.0,341.87 521.0,341.99 522.0,342.10 523.0,342.22 524.0,342.33 525.0,342.44 526.0,342.56 527.0,342.67 528.0,342.78 529.0,342.89 530.0,343.00 531.0,343.12 532.0,343.23 533.0,343.34 534.0,343.45 535.0,343.56" stroke="#C46FE8"/>
<polyline points="88.0,222.86 89.0,221.50 90.0,220.87 91.0,220.09 92.0,218.71 93.0,217.87 94.0,216.68 95.0,214.85 96.0,214.38 97.0,212.82 98.0,210.92 99.0,209.51 100.0,208.10 101.0,206.16 102.0,204.43 103.0,202.24 104.0,201.09 105.0,199.08 106.0,197.24 107.0,194.70 108.0,193.84 109.0,191.37 110.0,189.20 111.0,188.06 112.0,185.35 113.0,182.86 114.0,181.26 115.0,178.61 116.0,177.86 117.0,175.40 118.0,173.37 119.0,172.14 120.0,169.26 121.0,168.20 122.0,165.39 123.0,164.07 124.0,162.04 125.0,161.22 126.0,159.53 127.0,156.93 128.0,155.58 129.0,153.39 130.0,151.88 131.0,149.58 132.0,147.40 133.0,145.56 134.0,144.61 135.0,143.54 136.0,140.93 137.0,138.79 138.0,137.92 139.0,135.40 140.0,133.47 141.0,131.65 142.0,129.59 143.0,127.60 144.0,125.20 145.0,124.05 146.0,121.84 147.0,120.40 148.0,117.77 149.0,115.13 150.0,113.90 151.0,112.66 152.0,109.79 153.0,107.58 154.0,105.46 155.0,103.54 156.0,101.88 157.0,99.54 158.0,98.75 159.0,96.04 160.0,94.30 161.0,92.98 162.0,91.14 163.0,88.53 164.0,86.94 165.0,85.32 166.0,83.14 167.0,80.69 168.0,80.08 169.0,78.52 170.0,76.67 171.0,74.48 172.0,73.26 173.0,71.58 174.0,70.26 175.0,69.59 176.0,68.34 177.0,66.65 178.0,65.35 179.0,64.22 180.0,62.77 181.0,61.68 182.0,60.40 183.0,59.75 184.0,59.96 185.0,58.50 186.0,57.19 187.0,56.44 188.0,55.63 189.0,55.65 190.0,55.15 191.0,53.84 192.0,54.35 193.0,53.53 194.0,54.18 195.0,53.36 196.0,53.93 197.0,52.79 198.0,52.80 199.0,53.07 200.0,53.46 201.0,53.32 202.0,52.61 203.0,53.46 204.0,53.61 205.0,53.68 206.0,53.90 207.0,55.39 208.0,54.80 209.0,55.04 210.0,56.23 211.0,56.53 212.0,57.01 213.0,58.03 214.0,58.55 215.0,59.18 216.0,60.19 217.0,60.64 218.0,61.02 219.0,61.98 220.0,62.78 221.0,64.02 222.0,64.36 223.0,64.98 224.0,66.86 225.0,67.23 226.0,68.00 227.0,70.15 228.0,70.76 229.0,72.44 230.0,73.14 231.0,74.05 232.0,75.20 233.0,76.77 234.0,78.13 235.0,79.16 236.0,80.71 237.0,81.47 238.0,83.51 239.0,84.08 240.0,86.18 241.0,87.99 242.0,89.60 243.0,91.32 244.0,91.37 245.0,93.88 246.0,95.59 247.0,97.03 248.0,97.77 249.0,99.93 250.0,102.15 251.0,102.33 252.0,104.81 253.0,106.74 254.0,107.65 255.0,109.89 256.0,110.91 257.0,112.75 258.0,114.50 259.0,116.70 260.0,118.36 261.0,120.60 262.0,121.64 263.0,123.81 264.0,126.11 265.0,127.81 266.0,128.92 267.0,131.62 268.0,133.06 269.0,135.31 270.0,137.20 271.0,139.48 272.0,140.98 273.0,142.13 274.0,144.27 275.0,147.03 276.0,148.59 277.0,151.08 278.0,152.69 279.0,154.24 280.0,156.88 281.0,158.10 282.0,159.56 283.0,163.04 284.0,163.47 285.0,166.34 286.0,168.36 287.0,169.96 288.0,171.17 289.0,174.03 290.0,175.00 291.0,176.88 292.0,179.07 293.0,181.29 294.0,182.92 295.0,184.88 296.0,186.19 297.0,188.03 298.0,189.41 299.0,191.39 300.0,193.38 301.0,194.72 302.0,196.62 303.0,197.89 304.0,199.52 305.0,201.39 306.0,202.98 307.0,204.93 308.0,206.47 309.0,208.67 310.0,209.71 311.0,211.38 312.0,212.78 313.0,214.77 314.0,216.61 315.0,217.76 316.0,219.57 317.0,221.38 318.0,222.67 319.0,224.08 320.0,226.06 321.0,227.29 322.0,228.87 323.0,230.57 324.0,232.00 325.0,232.99 326.0,234.35 327.0,235.99 328.0,237.25 329.0,238.10 330.0,240.38 331.0,241.35 332.0,242.88 333.0,243.64 334.0,245.63 335.0,246.37 336.0,247.77 337.0,248.66 338.0,250.24 339.0,251.44 340.0,252.66 341.0,254.02 342.0,255.09 343.0,256.50 344.0,257.27 345.0,258.27 346.0,259.65 347.0,260.94 348.0,262.20 349.0,263.17 350.0,263.58 351.0,265.20 352.0,266.53 353.0,267.22 354.0,268.11 355.0,269.33 356.0,270.14 357.0,271.43 358.0,272.25 359.0,273.58 360.0,274.33 361.0,274.99 362.0,276.26 363.0,277.28 364.0,277.85 365.0,278.80 366.0,279.27 367.0,280.93 368.0,281.47 369.0,282.00 370.0,282.96 371.0,284.18 372.0,285.26 373.0,285.91 374.0,286.87 375.0,287.35 376.0,288.12 377.0,289.42 378.0,290.13 379.0,290.81 380.0,291.88 381.0,292.17 382.0,293.05 383.0,294.12 384.0,295.04 385.0,295.39 386.0,296.48 387.0,296.72 388.0,297.63 389.0,298.24 390.0,298.65 391.0,299.72 392.0,300.54 393.0,300.99 394.0,301.68 395.0,302.63 396.0,302.76 397.0,303.35 398.0,304.16 399.0,304.68 400.0,305.79 401.0,306.21 402.0,306.59 403.0,307.24 404.0,308.48 405.0,308.41 406.0,308.96 407.0,309.73 408.0,310.35 409.0,310.83 410.0,311.17 411.0,311.67 412.0,312.52 413.0,312.93 414.0,313.17 415.0,314.18 416.0,314.62 417.0,314.94 418.0,315.43 419.0,316.00 420.0,316.33 421.0,316.69 422.0,317.44 423.0,317.61 424.0,318.37 425.0,318.52 426.0,319.18 427.0,319.61 428.0,320.36 429.0,320.32 430.0,320.69 431.0,321.22 432.0,321.56 433.0,322.04 434.0,322.60 435.0,323.04 436.0,323.56 437.0,323.58 438.0,324.46 439.0,324.73 440.0,324.76 441.0,324.81 442.0,325.49 443.0,325.87 444.0,325.86 445.0,326.55 446.0,326.84 447.0,327.08 448.0,327.61 449.0,327.98 450.0,328.08 451.0,328.49 452.0,328.67 453.0,328.95 454.0,329.37 455.0,329.72 456.0,329.86 457.0,329.91 458.0,330.57 459.0,330.55 460.0,331.05 461.0,331.54 462.0,331.56 463.0,331.66 464.0,331.88 465.0,332.47 466.0,332.56 467.0,332.87 468.0,333.16 469.0,333.27 470.0,333.46 471.0,333.61 472.0,333.56 473.0,333.98 474.0,334.38 475.0,334.58 476.0,334.86 477.0,335.00 478.0,335.24 479.0,335.51 480.0,335.51 481.0,335.77 482.0,335.80 483.0,336.30 484.0,336.37 485.0,336.61 486.0,336.91 487.0,337.03 488.0,337.07 489.0,337.34 490.0,337.26 491.0,337.64 492.0,337.77 493.0,337.73 494.0,338.23 495.0,338.15 496.0,338.46 497.0,338.49 498.0,338.80 499.0,338.99 500.0,338.89 501.0,338.96 502.0,339.26 503.0,339.51 504.0,339.52 505.0,339.63 506.0,339.88 507.0,339.67 508.0,340.03 509.0,340.08 510.0,340.39 511.0,340.41 512.0,340.50 513.0,340.71 514.0,340.72 515.0,341.00 516.0,341.05 517.0,341.20 518.0,341.29 519.0,341.58 520.0,341.59 521.0,341.78 522.0,341.89 523.0,341.88 524.0,342.14 525.0,342.23 526.0,342.34 527.0,342.39 528.0,342.50 529.0,342.74 530.0,342.99 531.0,342.81 532.0,343.06 533.0,343.08 534.0,343.31 535.0,343.39" stroke="#E69500"/>
<polyline points="88.0,220.87 89.0,219.60 90.0,218.60 91.0,216.95 92.0,216.47 93.0,215.35 94.0,214.28 95.0,212.85 96.0,211.77 97.0,210.27 98.0,208.56 99.0,207.91 100.0,206.41 101.0,205.17 102.0,202.97 103.0,201.18 104.0,199.47 105.0,197.40 106.0,196.62 107.0,194.09 108.0,192.28 109.0,190.86 110.0,189.70 111.0,187.40 112.0,185.08 113.0,183.36 114.0,182.03 115.0,179.87 116.0,177.78 117.0,176.15 118.0,174.70 119.0,173.36 120.0,170.23 121.0,168.65 122.0,166.74 123.0,164.25 124.0,163.03 125.0,161.15 126.0,160.21 127.0,157.85 128.0,155.39 129.0,154.50 130.0,152.23 131.0,149.79 132.0,148.42 133.0,146.56 134.0,144.57 135.0,143.09 136.0,140.22 137.0,139.19 138.0,137.85 139.0,135.88 140.0,134.07 141.0,132.15 142.0,130.38 143.0,127.26 144.0,126.18 145.0,122.98 146.0,121.57 147.0,118.99 148.0,118.35 149.0,116.50 150.0,113.80 151.0,112.73 152.0,109.60 153.0,108.00 154.0,106.03 155.0,103.49 156.0,102.24 157.0,101.01 158.0,97.67 159.0,96.67 160.0,94.26 161.0,93.31 162.0,90.83 163.0,89.08 164.0,87.25 165.0,85.27 166.0,82.70 167.0,82.34 168.0,79.28 169.0,78.41 170.0,76.96 171.0,74.65 172.0,73.59 173.0,72.59 174.0,70.52 175.0,68.66 176.0,66.26 177.0,65.92 178.0,64.83 179.0,63.65 180.0,62.26 181.0,61.83 182.0,60.29 183.0,59.54 184.0,59.01 185.0,57.35 186.0,56.82 187.0,57.32 188.0,55.96 189.0,54.20 190.0,54.24 191.0,54.03 192.0,53.90 193.0,52.91 194.0,52.19 195.0,51.76 196.0,52.20 197.0,51.81 198.0,51.22 199.0,51.27 200.0,51.08 201.0,51.66 202.0,50.95 203.0,51.64 204.0,51.95 205.0,51.93 206.0,51.46 207.0,52.85 208.0,52.11 209.0,53.03 210.0,52.81 211.0,52.73 212.0,54.23 213.0,54.78 214.0,55.15 215.0,55.93 216.0,56.09 217.0,56.73 218.0,57.74 219.0,59.55 220.0,59.78 221.0,59.93 222.0,61.34 223.0,61.71 224.0,62.66 225.0,64.30 226.0,64.59 227.0,65.05 228.0,66.50 229.0,68.10 230.0,69.25 231.0,70.97 232.0,71.18 233.0,73.12 234.0,74.21 235.0,75.20 236.0,76.99 237.0,78.15 238.0,78.84 239.0,81.17 240.0,81.45 241.0,83.51 242.0,84.93 243.0,86.62 244.0,87.56 245.0,89.41 246.0,90.90 247.0,93.01 248.0,93.73 249.0,95.75 250.0,97.21 251.0,98.36 252.0,101.90 253.0,102.27 254.0,103.29 255.0,106.36 256.0,106.92 257.0,109.33 258.0,111.31 259.0,112.37 260.0,114.24 261.0,115.98 262.0,117.97 263.0,119.09 264.0,121.09 265.0,123.42 266.0,125.79 267.0,127.45 268.0,129.79 269.0,131.18 270.0,132.51 271.0,134.55 272.0,135.58 273.0,137.93 274.0,139.79 275.0,142.23 276.0,144.27 277.0,145.63 278.0,147.50 279.0,148.97 280.0,151.45 281.0,153.49 282.0,155.44 283.0,156.79 284.0,159.80 285.0,161.32 286.0,162.63 287.0,164.29 288.0,166.21 289.0,168.22 290.0,169.96 291.0,171.97 292.0,173.87 293.0,175.89 294.0,177.57 295.0,178.83 296.0,180.79 297.0,182.23 298.0,183.90 299.0,186.61 300.0,187.43 301.0,190.10 302.0,190.94 303.0,192.90 304.0,194.94 305.0,196.27 306.0,198.13 307.0,199.62 308.0,201.25 309.0,203.08 310.0,204.61 311.0,207.13 312.0,208.16 313.0,210.51 314.0,210.59 315.0,213.20 316.0,215.01 317.0,216.32 318.0,218.39 319.0,219.81 320.0,221.05 321.0,222.83 322.0,225.17 323.0,225.81 324.0,227.32 325.0,228.55 326.0,230.20 327.0,231.18 328.0,232.97 329.0,235.26 330.0,236.20 331.0,237.45 332.0,238.97 333.0,240.58 334.0,241.51 335.0,243.30 336.0,244.30 337.0,245.32 338.0,247.09 339.0,247.10 340.0,248.91 341.0,250.42 342.0,251.29 343.0,252.74 344.0,253.80 345.0,255.00 346.0,257.18 347.0,257.73 348.0,258.68 349.0,260.22 350.0,260.90 351.0,262.35 352.0,263.30 353.0,264.76 354.0,264.98 355.0,266.67 356.0,267.55 357.0,268.24 358.0,269.89 359.0,270.39 360.0,272.09 361.0,272.79 362.0,273.83 363.0,274.65 364.0,275.84 365.0,276.07 366.0,277.54 367.0,278.30 368.0,279.47 369.0,280.30 370.0,281.38 371.0,281.91 372.0,283.49 373.0,284.48 374.0,284.72 375.0,285.63 376.0,286.56 377.0,287.64 378.0,288.62 379.0,288.69 380.0,289.65 381.0,290.35 382.0,291.13 383.0,291.79 384.0,293.04 385.0,293.45 386.0,294.83 387.0,295.44 388.0,295.73 389.0,296.46 390.0,297.28 391.0,298.45 392.0,298.65 393.0,299.20 394.0,300.21 395.0,300.98 396.0,301.43 397.0,302.58 398.0,302.94 399.0,303.63 400.0,303.98 401.0,304.79 402.0,305.38 403.0,305.55 404.0,306.69 405.0,306.86 406.0,307.81 407.0,308.10 408.0,309.39 409.0,309.61 410.0,310.27 411.0,310.83 412.0,310.93 413.0,311.28 414.0,312.20 415.0,312.96 416.0,313.32 417.0,313.96 418.0,314.49 419.0,314.52 420.0,315.34 421.0,316.14 422.0,316.14 423.0,316.33 424.0,317.13 425.0,317.54 426.0,318.15 427.0,318.35 428.0,318.96 429.0,318.98 430.0,319.95 431.0,320.49 432.0,320.85 433.0,320.76 434.0,321.48 435.0,321.30 436.0,322.25 437.0,322.57 438.0,322.79 439.0,323.39 440.0,323.72 441.0,324.21 442.0,324.43 443.0,324.79 444.0,324.78 445.0,325.24 446.0,325.69 447.0,326.14 448.0,326.41 449.0,326.97 450.0,326.91 451.0,327.32 452.0,327.70 453.0,327.92 454.0,328.33 455.0,328.45 456.0,329.04 457.0,329.05 458.0,329.55 459.0,329.65 460.0,330.14 461.0,329.97 462.0,330.52 463.0,330.63 464.0,330.98 465.0,331.37 466.0,331.27 467.0,331.49 468.0,331.77 469.0,332.19 470.0,332.11 471.0,332.62 472.0,332.64 473.0,332.88 474.0,333.21 475.0,333.53 476.0,333.60 477.0,333.82 478.0,334.09 479.0,334.26 480.0,334.13 481.0,334.63 482.0,334.89 483.0,335.22 484.0,335.53 485.0,335.53 486.0,335.64 487.0,335.68 488.0,335.99 489.0,336.26 490.0,336.50 491.0,336.39 492.0,336.70 493.0,336.94 494.0,337.24 495.0,337.20 496.0,337.26 497.0,337.40 498.0,337.60 499.0,337.72 500.0,338.06 501.0,338.24 502.0,338.35 503.0,338.56 504.0,338.50 505.0,338.75 506.0,338.81 507.0,339.01 508.0,339.29 509.0,339.29 510.0,339.21 511.0,339.54 512.0,339.63 513.0,339.68 514.0,339.90 515.0,340.25 516.0,340.47 517.0,340.36 518.0,340.67 519.0,340.83 520.0,340.70 521.0,340.97 522.0,341.10 523.0,341.27 524.0,341.20 525.0,341.48 526.0,341.78 527.0,341.94 528.0,342.14 529.0,342.04 530.0,342.42 531.0,342.43 532.0,342.35 533.0,342.73 534.0,342.75 535.0,342.98" stroke="#4C0A9E"/>
</g>
<g fill="none" stroke="#000" stroke-width="2">
<rect x="88.0" y="13.3" width="447.0" height="342.5"/>
<path d="M89 334.39h2.9 M89 312.99h7.7 M89 291.58h2.9 M89 270.18h7.7 M89 248.77h2.9 M89 227.36h7.7 M89 205.96h2.9 M89 184.55h7.7 M89 163.14h2.9 M89 141.74h7.7 M89 120.33h2.9 M89 98.93h7.7 M89 77.52h2.9 M89 56.11h7.7 M89 34.71h2.9 M115.94 355h0v-3.1 M143.88 355h0v-7.8 M171.81 355h0v-3.1 M199.75 355h0v-7.8 M227.69 355h0v-3.1 M255.62 355h0v-7.8 M283.56 355h0v-3.1 M311.50 355h0v-7.8 M339.44 355h0v-3.1 M367.38 355h0v-7.8 M395.31 355h0v-3.1 M423.25 355h0v-7.8 M451.19 355h0v-3.1 M479.12 355h0v-7.8 M507.06 355h0v-3.1"/>
</g>
<g font-size="16">
<text x="77.3" y="316.99" text-anchor="end">1000</text><text x="77.3" y="274.18" text-anchor="end">2000</text><text x="77.3" y="231.36" text-anchor="end">3000</text><text x="77.3" y="188.55" text-anchor="end">4000</text><text x="77.3" y="145.74" text-anchor="end">5000</text><text x="77.3" y="102.93" text-anchor="end">6000</text><text x="77.3" y="60.11" text-anchor="end">7000</text><text x="77.3" y="17.30" text-anchor="end">8000</text>
<text x="88.00" y="377.6" text-anchor="middle">450</text><text x="143.88" y="377.6" text-anchor="middle">475</text><text x="199.75" y="377.6" text-anchor="middle">500</text><text x="255.62" y="377.6" text-anchor="middle">525</text><text x="311.50" y="377.6" text-anchor="middle">550</text><text x="367.38" y="377.6" text-anchor="middle">575</text><text x="423.25" y="377.6" text-anchor="middle">600</text><text x="479.12" y="377.6" text-anchor="middle">625</text><text x="535.00" y="377.6" text-anchor="middle">650</text>
</g>
<g fill="none" stroke-width="2">
<line x1="453" y1="45.2" x2="493" y2="45.2" stroke="#FFF200"/><line x1="453" y1="66.5" x2="493" y2="66.5" stroke="#FF2D2D"/><line x1="453" y1="87.8" x2="493" y2="87.8" stroke="#0A64E6"/><line x1="453" y1="109.1" x2="493" y2="109.1" stroke="#00A862"/><line x1="453" y1="130.4" x2="493" y2="130.4" stroke="#C46FE8"/><line x1="453" y1="151.7" x2="493" y2="151.7" stroke="#E69500"/><line x1="453" y1="173.0" x2="493" y2="173.0" stroke="#4C0A9E"/>
</g>
<g font-size="14.5">
<text x="495.5" y="50.3">0</text><text x="495.5" y="71.6">2</text><text x="495.5" y="92.9">5</text><text x="495.5" y="114.2">10</text><text x="495.5" y="135.5">30</text><text x="495.5" y="156.8">50</text><text x="495.5" y="178.1">100</text>
</g>
<text x="233.1" y="421" font-size="20" textLength="157" lengthAdjust="spacingAndGlyphs">Wavelength (nm)</text>
<text transform="translate(20.4,280.6) rotate(-90)" x="0" y="0" font-size="17.5" textLength="213.8" lengthAdjust="spacingAndGlyphs">Fluorescence intensity (a.u.)</text>
</svg>
</body></html>
